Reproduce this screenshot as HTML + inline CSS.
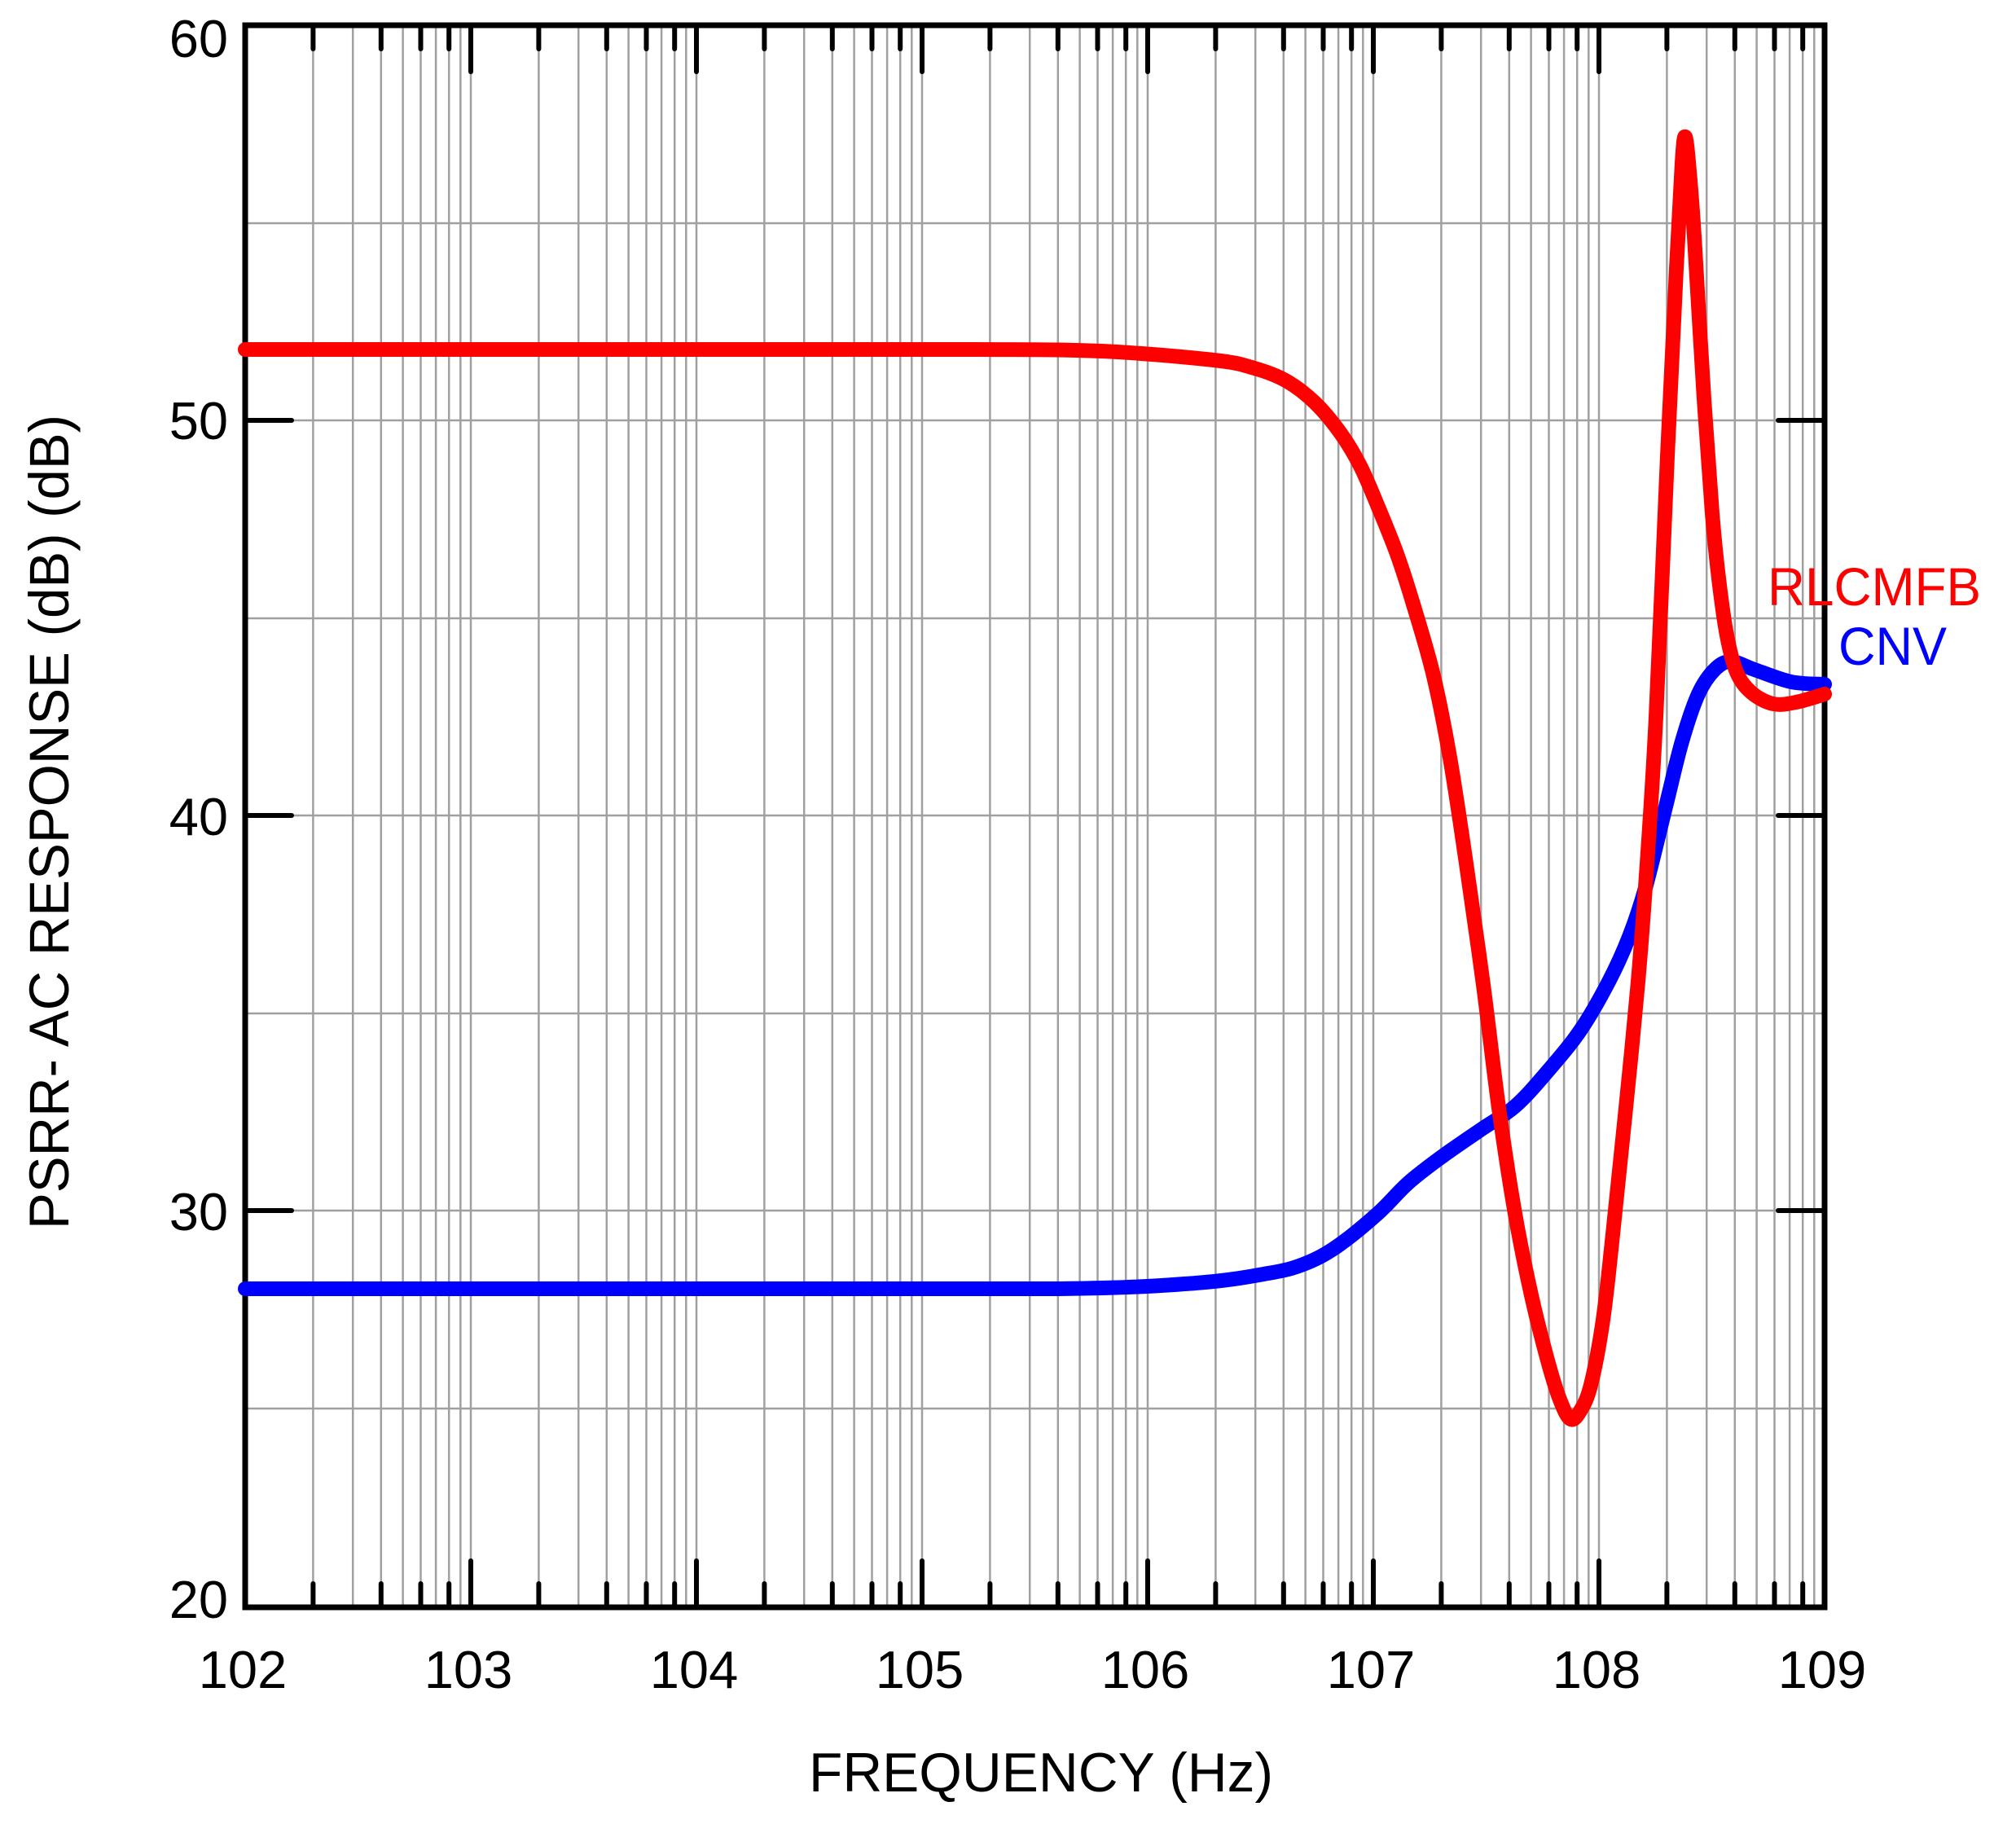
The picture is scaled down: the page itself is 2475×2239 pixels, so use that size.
<!DOCTYPE html>
<html><head><meta charset="utf-8"><style>
html,body{margin:0;padding:0;background:#fff;}
svg{display:block;}
text{font-family:"Liberation Sans",Arial,sans-serif;}
</style></head><body>
<svg id="chart" width="2475" height="2239" viewBox="0 0 2475 2239" xmlns="http://www.w3.org/2000/svg">
<defs>
<g id="dec">
<g stroke="#a0a0a0" stroke-width="2.5">
<line x1="83.4" y1="31" x2="83.4" y2="1973"/>
<line x1="132.2" y1="31" x2="132.2" y2="1973"/>
<line x1="166.8" y1="31" x2="166.8" y2="1973"/>
<line x1="193.6" y1="31" x2="193.6" y2="1973"/>
<line x1="215.5" y1="31" x2="215.5" y2="1973"/>
<line x1="234.1" y1="31" x2="234.1" y2="1973"/>
<line x1="250.2" y1="31" x2="250.2" y2="1973"/>
<line x1="264.3" y1="31" x2="264.3" y2="1973"/>
<line x1="277" y1="31" x2="277" y2="1973"/>
</g>
<g stroke="#000" stroke-width="6" stroke-linecap="round">
<line x1="83.4" y1="31" x2="83.4" y2="60"/>
<line x1="166.8" y1="31" x2="166.8" y2="60"/>
<line x1="215.5" y1="31" x2="215.5" y2="60"/>
<line x1="250.2" y1="31" x2="250.2" y2="60"/>
<line x1="277" y1="31" x2="277" y2="88"/>
<line x1="83.4" y1="1973" x2="83.4" y2="1944"/>
<line x1="166.8" y1="1973" x2="166.8" y2="1944"/>
<line x1="215.5" y1="1973" x2="215.5" y2="1944"/>
<line x1="250.2" y1="1973" x2="250.2" y2="1944"/>
<line x1="277" y1="1973" x2="277" y2="1916"/>
</g>
</g>
</defs>
<g stroke="#a0a0a0" stroke-width="2.5">
<line x1="301" y1="274" x2="2240" y2="274"/>
<line x1="301" y1="516" x2="2240" y2="516"/>
<line x1="301" y1="759" x2="2240" y2="759"/>
<line x1="301" y1="1001" x2="2240" y2="1001"/>
<line x1="301" y1="1244" x2="2240" y2="1244"/>
<line x1="301" y1="1486" x2="2240" y2="1486"/>
<line x1="301" y1="1729" x2="2240" y2="1729"/>
</g>
<use href="#dec" transform="translate(301,0)"/>
<use href="#dec" transform="translate(578,0)"/>
<use href="#dec" transform="translate(855,0)"/>
<use href="#dec" transform="translate(1132,0)"/>
<use href="#dec" transform="translate(1409,0)"/>
<use href="#dec" transform="translate(1686,0)"/>
<use href="#dec" transform="translate(1963,0)"/>
<g stroke="#000" stroke-width="6" stroke-linecap="round">
<line x1="301" y1="516" x2="358" y2="516"/>
<line x1="301" y1="1001" x2="358" y2="1001"/>
<line x1="301" y1="1486" x2="358" y2="1486"/>
<line x1="2240" y1="516" x2="2183" y2="516"/>
<line x1="2240" y1="1001" x2="2183" y2="1001"/>
<line x1="2240" y1="1486" x2="2183" y2="1486"/>
</g>
<rect x="301" y="31" width="1939" height="1942" fill="none" stroke="#000" stroke-width="7"/>
<polyline class="crv" fill="none" stroke="#0000ff" stroke-width="18" stroke-linecap="round" stroke-linejoin="round"
points="301,1582 900,1582 1300,1582 1468,1575 1557,1563 1600,1552 1640,1531 1691,1490 1729,1452 1770,1420 1819,1386 1860,1358 1900,1315 1940,1265 1975,1205 2000,1150 2020,1090 2045,990 2065,910 2085,852 2105,822 2125,812 2154,822 2199,837 2240,840"/>
<polyline class="crv" fill="none" stroke="#ff0000" stroke-width="18" stroke-linecap="round" stroke-linejoin="round"
points="301,429 900,429 1200,429 1352,431 1490,442 1540,452 1580,468 1615,495 1646,532 1670,572 1691,620 1715,680 1736,745 1760,830 1780,930 1800,1060 1821,1209 1840,1360 1860,1490 1880,1590 1900,1670 1915,1718 1928,1742 1940,1732 1953,1700 1968,1620 1980,1515 1995,1370 2011,1205 2022,1060 2033,880 2047,560 2058,330 2065,200 2069,168 2074,210 2080,290 2092,490 2102,630 2110,710 2120,780 2132,825 2150,850 2177,864 2205,862 2240,852"/>
<g font-size="65" fill="#000" text-anchor="end">
<text x="280" y="70">60</text>
<text x="280" y="539">50</text>
<text x="280" y="1025">40</text>
<text x="280" y="1510">30</text>
<text x="280" y="1986">20</text>
</g>
<g font-size="65" fill="#000" text-anchor="middle">
<text x="298" y="2072">102</text>
<text x="575" y="2072">103</text>
<text x="852" y="2072">104</text>
<text x="1129" y="2072">105</text>
<text x="1406" y="2072">106</text>
<text x="1683" y="2072">107</text>
<text x="1960" y="2072">108</text>
<text x="2237" y="2072">109</text>
</g>
<text x="993" y="2199" font-size="68" textLength="570" lengthAdjust="spacingAndGlyphs">FREQUENCY  (Hz)</text>
<text transform="translate(84,1509) rotate(-90)" x="0" y="0" font-size="69" textLength="1000" lengthAdjust="spacingAndGlyphs">PSRR- AC RESPONSE (dB)  (dB)</text>
<text x="2170" y="743" font-size="66" fill="#ff0000" textLength="262" lengthAdjust="spacingAndGlyphs">RLCMFB</text>
<text x="2257" y="816" font-size="66" fill="#0000ff" textLength="133" lengthAdjust="spacingAndGlyphs">CNV</text>
</svg>
<script>
(function(){
var ns="http://www.w3.org/2000/svg";
var pls=document.querySelectorAll("polyline.crv");
for(var i=0;i<pls.length;i++){
 var pl=pls[i];
 var pts=pl.getAttribute("points").trim().split(/\s+/).map(function(s){var a=s.split(",");return [+a[0],+a[1]];});
 var d="M"+pts[0][0]+","+pts[0][1];
 for(var j=0;j<pts.length-1;j++){
  var p0=pts[j-1]||pts[j],p1=pts[j],p2=pts[j+1],p3=pts[j+2]||p2;
  var t=0.5/3;
  var c1=[p1[0]+(p2[0]-p0[0])*t,p1[1]+(p2[1]-p0[1])*t];
  var c2=[p2[0]-(p3[0]-p1[0])*t,p2[1]-(p3[1]-p1[1])*t];
  d+=" C"+c1[0].toFixed(1)+","+c1[1].toFixed(1)+" "+c2[0].toFixed(1)+","+c2[1].toFixed(1)+" "+p2[0]+","+p2[1];
 }
 var path=document.createElementNS(ns,"path");
 ["fill","stroke","stroke-width","stroke-linecap","stroke-linejoin"].forEach(function(a){path.setAttribute(a,pl.getAttribute(a));});
 path.setAttribute("d",d);
 pl.parentNode.replaceChild(path,pl);
}
})();
</script>
</body></html>
